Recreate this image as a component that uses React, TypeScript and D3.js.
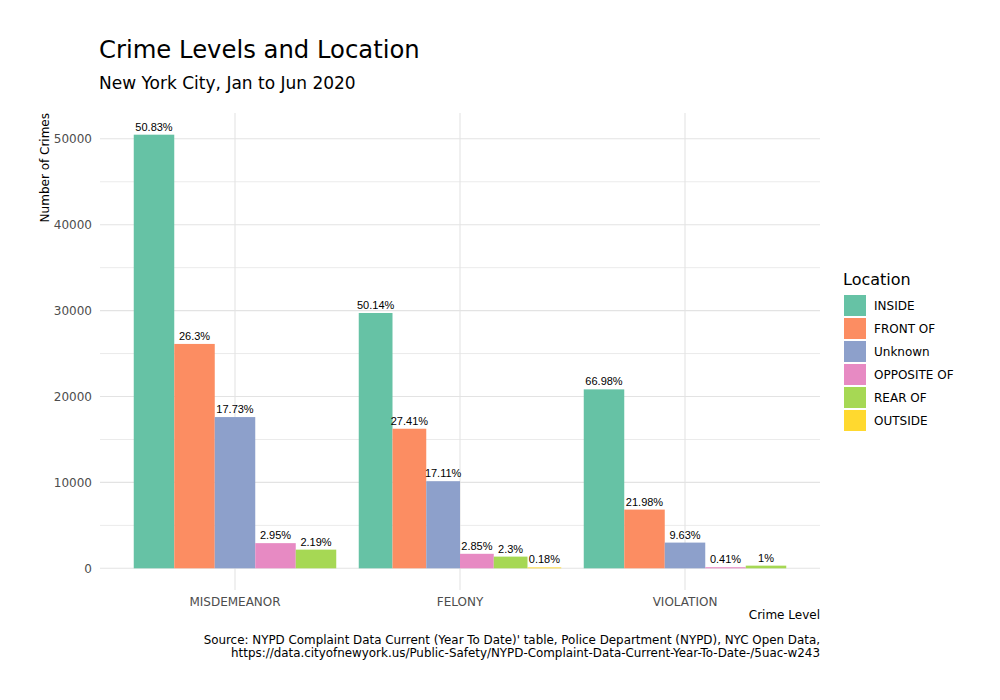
import { useEffect, useRef } from "react";
import * as d3 from "d3";

// crime counts by level and premises location, NYC Jan-Jun 2020
const levels = ["MISDEMEANOR", "FELONY", "VIOLATION"];
const locations = ["INSIDE", "FRONT OF", "Unknown", "OPPOSITE OF", "REAR OF", "OUTSIDE"];

// null = no complaints recorded for that combination
const insideCounts = [50480, 29723, 20830];
const frontCounts = [26121, 16249, 6836];
const unknownCounts = [17607, 10143, 2995];
const oppositeCounts = [2930, 1690, 128];
const rearCounts = [2175, 1363, 311];
const outsideCounts = [null, 107, null];

const yTicks = [0, 10000, 20000, 30000, 40000, 50000];

const seriesCounts: (number | null)[][] = [
  insideCounts,
  frontCounts,
  unknownCounts,
  oppositeCounts,
  rearCounts,
  outsideCounts,
];

const W = 1000;
const H = 700;
const panel = { left: 100, right: 820, top: 113, bottom: 590 };
const FONT = "DejaVu Sans, sans-serif";

const pctLabel = (v: number, total: number) => {
  const p = Math.round((v / total) * 10000) / 100;
  return String(p) + "%";
};

const App = () => {
  const ref = useRef<SVGSVGElement | null>(null);

  useEffect(() => {
    if (!ref.current) return;
    const svg = d3.select(ref.current);
    svg.selectAll("*").remove();

    const color = d3.scaleOrdinal<string, string>().domain(locations).range(d3.schemeSet2);

    const x = d3
      .scaleBand<string>()
      .domain(levels)
      .range([panel.left, panel.right])
      .paddingInner(0)
      .paddingOuter(0.1);

    const maxVal = d3.max(seriesCounts.flat(), (d) => (d == null ? 0 : d)) as number;
    const y = d3
      .scaleLinear()
      .domain([-0.05 * maxVal, 1.05 * maxVal])
      .range([panel.bottom, panel.top]);

    // minor grid
    const minor = d3.range(5000, 55000, 10000);
    svg
      .append("g")
      .selectAll("line")
      .data(minor)
      .join("line")
      .attr("x1", panel.left)
      .attr("x2", panel.right)
      .attr("y1", (d) => y(d))
      .attr("y2", (d) => y(d))
      .attr("stroke", "#ebebeb")
      .attr("stroke-width", 1);

    // major grid
    svg
      .append("g")
      .selectAll("line")
      .data(yTicks)
      .join("line")
      .attr("x1", panel.left)
      .attr("x2", panel.right)
      .attr("y1", (d) => y(d))
      .attr("y2", (d) => y(d))
      .attr("stroke", "#e3e3e3")
      .attr("stroke-width", 1.1);

    svg
      .append("g")
      .selectAll("line")
      .data(levels)
      .join("line")
      .attr("x1", (d) => (x(d) as number) + x.bandwidth() / 2)
      .attr("x2", (d) => (x(d) as number) + x.bandwidth() / 2)
      .attr("y1", panel.top)
      .attr("y2", panel.bottom)
      .attr("stroke", "#e3e3e3")
      .attr("stroke-width", 1.1);

    // dodged bars, only for locations present in each level
    const bars: { level: string; loc: string; v: number; x0: number; w: number; total: number }[] = [];
    levels.forEach((lv, li) => {
      const present = locations
        .map((loc, si) => ({ loc, v: seriesCounts[si][li] }))
        .filter((d) => d.v != null) as { loc: string; v: number }[];
      const total = d3.sum(present, (d) => d.v);
      const groupW = x.bandwidth() * 0.9;
      const w = groupW / present.length;
      const start = (x(lv) as number) + x.bandwidth() / 2 - groupW / 2;
      present.forEach((d, i) => {
        bars.push({ level: lv, loc: d.loc, v: d.v, x0: start + i * w, w, total });
      });
    });

    svg
      .append("g")
      .selectAll("rect")
      .data(bars)
      .join("rect")
      .attr("x", (d) => d.x0)
      .attr("width", (d) => d.w)
      .attr("y", (d) => y(d.v))
      .attr("height", (d) => y(0) - y(d.v))
      .attr("fill", (d) => color(d.loc));

    svg
      .append("g")
      .selectAll("text")
      .data(bars)
      .join("text")
      .attr("x", (d) => d.x0 + d.w / 2)
      .attr("y", (d) => y(d.v) - 4)
      .attr("text-anchor", "middle")
      .attr("font-family", "Liberation Sans, Arial, sans-serif")
      .attr("font-size", 11)
      .attr("fill", "#000")
      .text((d) => pctLabel(d.v, d.total));

    // y axis labels
    const yAxis = svg
      .append("g")
      .attr("transform", `translate(${panel.left - 5},0)`)
      .call(d3.axisLeft(y).tickValues(yTicks).tickSize(0).tickFormat(d3.format("d")));
    yAxis.select(".domain").remove();
    yAxis
      .selectAll("text")
      .attr("font-family", FONT)
      .attr("font-size", 12)
      .attr("fill", "#4d4d4d");

    const xAxis = svg
      .append("g")
      .attr("transform", `translate(0,${panel.bottom + 4})`)
      .call(d3.axisBottom(x).tickSize(0));
    xAxis.select(".domain").remove();
    xAxis
      .selectAll("text")
      .attr("font-family", FONT)
      .attr("font-size", 12)
      .attr("fill", "#4d4d4d");

    // titles
    svg
      .append("text")
      .attr("x", 99)
      .attr("y", 58)
      .attr("font-family", FONT)
      .attr("font-size", 24.3)
      .text("Crime Levels and Location");
    svg
      .append("text")
      .attr("x", 99)
      .attr("y", 89)
      .attr("font-family", FONT)
      .attr("font-size", 17)
      .text("New York City, Jan to Jun 2020");

    svg
      .append("text")
      .attr("transform", `translate(49,${panel.top}) rotate(-90)`)
      .attr("text-anchor", "end")
      .attr("font-family", FONT)
      .attr("font-size", 12)
      .text("Number of Crimes");

    svg
      .append("text")
      .attr("x", panel.right)
      .attr("y", 619)
      .attr("text-anchor", "end")
      .attr("font-family", FONT)
      .attr("font-size", 12)
      .text("Crime Level");

    const caption = svg
      .append("text")
      .attr("text-anchor", "end")
      .attr("font-family", FONT)
      .attr("font-size", 11.9);
    caption
      .append("tspan")
      .attr("x", panel.right)
      .attr("y", 644)
      .text("Source: NYPD Complaint Data Current (Year To Date)' table, Police Department (NYPD), NYC Open Data,");
    caption
      .append("tspan")
      .attr("x", panel.right)
      .attr("y", 657)
      .text("https://data.cityofnewyork.us/Public-Safety/NYPD-Complaint-Data-Current-Year-To-Date-/5uac-w243");

    // legend
    const lg = svg.append("g").attr("transform", "translate(843,294)");
    lg.append("text")
      .attr("x", 0)
      .attr("y", -9)
      .attr("font-family", FONT)
      .attr("font-size", 16)
      .text("Location");
    const item = lg
      .selectAll("g")
      .data(locations)
      .join("g")
      .attr("transform", (d, i) => `translate(0,${i * 23})`);
    item
      .append("rect")
      .attr("x", 1)
      .attr("y", 1)
      .attr("width", 22)
      .attr("height", 21)
      .attr("fill", (d) => color(d));
    item
      .append("text")
      .attr("x", 31)
      .attr("y", 16)
      .attr("font-family", FONT)
      .attr("font-size", 12)
      .text((d) => d);
  }, []);

  return (
    <div>
      <svg ref={ref} width={W} height={H} style={{ position: "absolute", left: 0, top: 0, background: "#fff" }} />
    </div>
  );
};

export default App;
